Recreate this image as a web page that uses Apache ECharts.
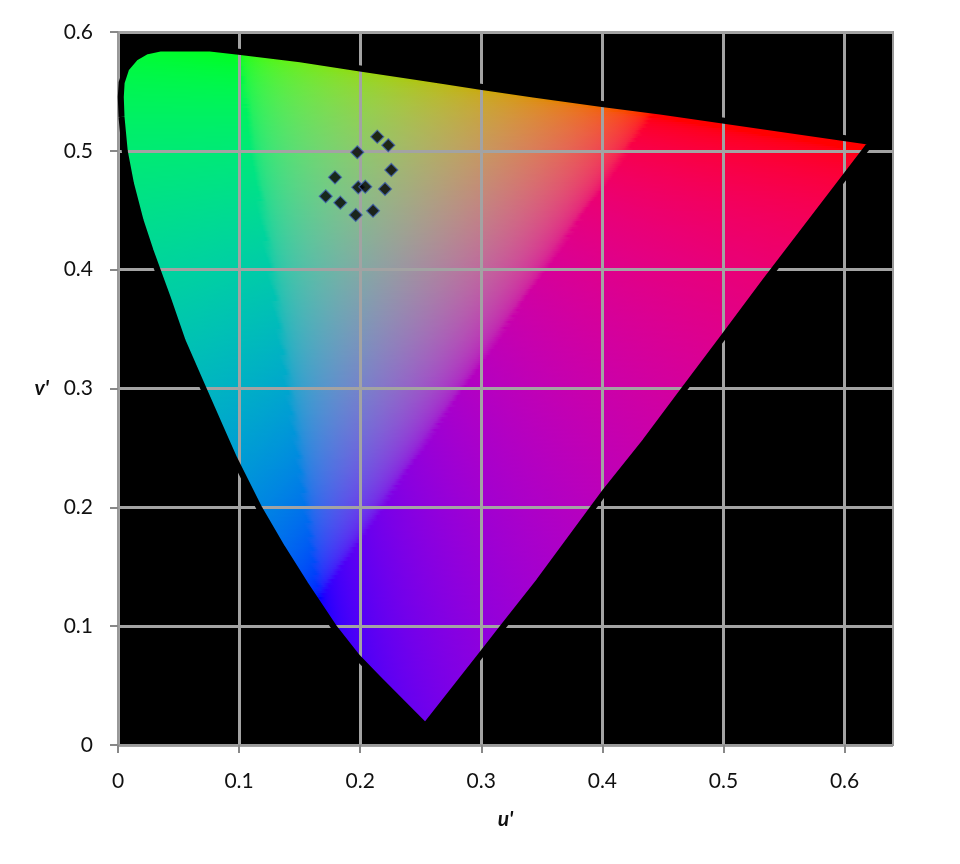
<!DOCTYPE html>
<html><head><meta charset="utf-8">
<style>html,body{margin:0;padding:0;background:#fff}#c{width:960px;height:864px}</style>
<script src="https://cdn.jsdelivr.net/npm/echarts@6/dist/echarts.min.js"></script>
</head><body><div id="c"></div>
<script>
const uTicks = [0, 0.1, 0.2, 0.3, 0.4, 0.5, 0.6];
const vTicks = [0, 0.1, 0.2, 0.3, 0.4, 0.5, 0.6];
const locusU = [.0029,.0023,.0030,.0068,.0142,.0231,.0347,.0760,.0996,.1505,.2000,.2414,.2687,.2993,.3430,.3997,.4478,.6222,.5342,.5002,.4682,.4352,.4022,.3474,.3171,.3020,.2538,.2148,.1974,.1789,.1548,.1358,.1168,.0962,.0896,.0708,.0534,.0410,.0327,.0269,.0187,.0107,.0056,.0029];
const locusV = [.5285,.5453,.5575,.5693,.5781,.5835,.5861,.5861,.5834,.5771,.5693,.5630,.5588,.5539,.5474,.5394,.5331,.5074,.3901,.3438,.3003,.2554,.2133,.1376,.0983,.0787,.0162,.0560,.0743,.0983,.1351,.1658,.1990,.2407,.2558,.2993,.3400,.3766,.3996,.4159,.4412,.4724,.4995,.5285];
const sampleU = [.2141,.2232,.1976,.2257,.1792,.1984,.2042,.2205,.1715,.1836,.1963,.2106];
const sampleV = [.5119,.5047,.4988,.4839,.4777,.4693,.4698,.4679,.4618,.4564,.4460,.4496];
// colour anchors of the gamut: [u', v']
const redAnchor = [.4393, .5293];
const greenAnchor = [.0991, .5849];
const blueAnchor = [.1668, .1254];
const rowStep = 0.00168;

function mix(u, v) {
  const [x1, y1] = redAnchor, [x2, y2] = greenAnchor, [x3, y3] = blueAnchor;
  const d = (y2 - y3) * (x1 - x3) + (x3 - x2) * (y1 - y3);
  let r = ((y2 - y3) * (u - x3) + (x3 - x2) * (v - y3)) / d;
  let g = ((y3 - y1) * (u - x3) + (x1 - x3) * (v - y3)) / d;
  let b = 1 - r - g;
  r = Math.max(r, 0); g = Math.max(g, 0); b = Math.max(b, 0);
  const s = r + g + b;
  const e = c => Math.round(255 * Math.pow(c / s, 0.45));
  return `rgb(${e(r)},${e(g)},${e(b)})`;
}
function chord(v) {
  let lo = Infinity, hi = -Infinity;
  for (let i = 0; i + 1 < locusU.length; i++) {
    const v0 = locusV[i], v1 = locusV[i + 1];
    if ((v0 - v) * (v1 - v) <= 0 && v0 !== v1) {
      const u = locusU[i] + (v - v0) / (v1 - v0) * (locusU[i + 1] - locusU[i]);
      lo = Math.min(lo, u); hi = Math.max(hi, u);
    }
  }
  return [lo, hi];
}
const rows = [];
for (let k = 9; k < 350; k++) rows.push(k * rowStep);

const axisBase = {
  type: 'value', min: 0, z: 3,
  axisLine: {show: true, onZero: false, lineStyle: {color: '#999', width: 2}},
  axisTick: {show: true, length: 8, lineStyle: {color: '#888', width: 2}},
  splitLine: {show: true, lineStyle: {color: '#a3a3a3', width: 3}}
};
const labelStyle = {color: '#111', fontFamily: 'Lato', fontSize: 21};
const nameStyle = {color: '#111', fontFamily: 'Lato', fontSize: 21, fontWeight: 'bold', fontStyle: 'italic'};

const chart = echarts.init(document.getElementById('c'), null, {renderer: 'canvas'});
chart.setOption({
  animation: false,
  backgroundColor: '#fff',
  grid: {left: 118, top: 32, width: 775, height: 713, show: true, backgroundColor: '#000', borderColor: '#999', borderWidth: 2},
  xAxis: Object.assign({}, axisBase, {
    max: 0.64, interval: 0.1, name: "u'", nameLocation: 'middle', nameGap: 64, nameTextStyle: nameStyle,
    axisLabel: Object.assign({margin: 26, customValues: uTicks}, labelStyle),
    axisTick: Object.assign({}, axisBase.axisTick, {customValues: uTicks})
  }),
  yAxis: Object.assign({}, axisBase, {
    max: 0.6, interval: 0.1, name: "v'", nameLocation: 'middle', nameGap: 69, nameRotate: 0, nameTextStyle: nameStyle,
    axisLabel: Object.assign({margin: 25, customValues: vTicks}, labelStyle)
  }),
  series: [
    {
      type: 'custom', z: 2, silent: true, clip: true,
      coordinateSystem: 'cartesian2d',
      encode: {x: 0, y: 1},
      data: rows.map(v => [chord(v)[0], v]),
      renderItem(params, api) {
        const v = api.value(1);
        const [lo, hi] = chord(v);
        if (!isFinite(lo)) return null;
        const a = api.coord([lo, v]), b = api.coord([hi, v]);
        const h = Math.abs(api.size([0, rowStep])[1]);
        const n = Math.max(2, Math.ceil((b[0] - a[0]) / 6));
        const colorStops = [];
        for (let i = 0; i <= n; i++) colorStops.push({offset: i / n, color: mix(lo + (hi - lo) * i / n, v)});
        const top = Math.floor(a[1] - h / 2), bottom = Math.ceil(a[1] + h / 2);
        return {
          type: 'rect',
          shape: {x: a[0], y: top, width: b[0] - a[0], height: bottom - top},
          style: {fill: {type: 'linear', x: a[0], y: 0, x2: b[0], y2: 0, global: true, colorStops}}
        };
      }
    },
    {
      type: 'line', z: 4, silent: true, symbol: 'none', smooth: false,
      data: locusU.map((u, i) => [u, locusV[i]]),
      lineStyle: {color: '#000', width: 6, join: 'miter', miterLimit: 10}
    },
    {
      type: 'scatter', z: 5, symbol: 'diamond', symbolSize: 13,
      data: sampleU.map((u, i) => [u, sampleV[i]]),
      itemStyle: {color: '#000', borderColor: '#3e60b0', borderWidth: 1.2}
    }
  ]
});
</script></body></html>
